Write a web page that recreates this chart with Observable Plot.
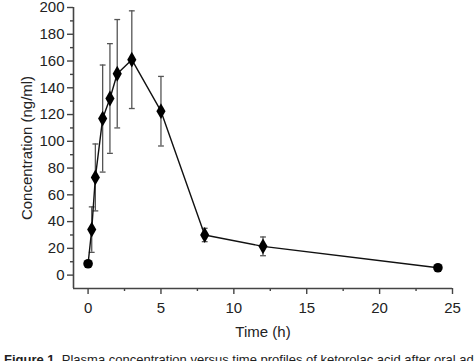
<!DOCTYPE html>
<html>
<head>
<meta charset="utf-8">
<script src="https://cdn.jsdelivr.net/npm/d3@7"></script>
<script src="https://cdn.jsdelivr.net/npm/@observablehq/plot@0.6"></script>
<style>
  html, body { margin: 0; padding: 0; background: #fff; width: 474px; height: 361px; overflow: hidden; }
  #chart svg { display: block; overflow: visible; }
  #caption { position: absolute; left: 4px; top: 352px; font: 13px "Liberation Sans", Arial, sans-serif; color: #222; white-space: nowrap; }
</style>
</head>
<body>
<div id="chart"></div>
<div id="caption"><b>Figure 1</b>&nbsp;&nbsp;Plasma concentration versus time profiles of ketorolac acid after oral administration</div>
<script>
const times = [0, 0.25, 0.5, 1, 1.5, 2, 3, 5, 8, 12, 24];
const conc = [8.5, 34, 73, 117, 132, 150.5, 161, 122.5, 30, 21.5, 5.5];
const sd = [0, 17, 25, 40, 41, 40.5, 36.5, 26, 5, 7, 0];
const symbols = ["circle", "diamond", "diamond", "diamond", "diamond", "diamond", "diamond", "diamond", "diamond", "diamond", "circle"];
const xTicks = [0, 5, 10, 15, 20, 25];
const xMinor = [2.5, 7.5, 12.5, 17.5, 22.5];
const yTicks = [0, 20, 40, 60, 80, 100, 120, 140, 160, 180, 200];
const yMinor = [10, 30, 50, 70, 90, 110, 130, 150, 170, 190];

const data = times.map((t, i) => ({t, c: conc[i], sd: sd[i], sym: symbols[i]}));
const bars = data.filter(d => d.sd > 0);
const caps = bars.flatMap(d => [{t: d.t, y: d.c + d.sd}, {t: d.t, y: d.c - d.sd}]);
const capHalf = 0.2;

const chart = Plot.plot({
  width: 474,
  height: 340,
  marginLeft: 73,
  marginRight: 22,
  marginTop: 7,
  marginBottom: 52,
  style: {fontFamily: "'Liberation Sans', Arial, sans-serif", fontSize: "15px", color: "#222", background: "#fff", overflow: "visible"},
  x: {domain: [-1, 25]},
  y: {domain: [-10, 200]},
  marks: [
    Plot.axisX({ticks: xTicks, tickSize: 6, tickPadding: 8, stroke: "#444", strokeWidth: 1.4, label: "Time (h)", labelAnchor: "center", labelArrow: "none", labelOffset: 48}),
    Plot.axisX({ticks: xMinor, tickSize: 3, tickFormat: () => "", stroke: "#444", strokeWidth: 1.4, label: null}),
    Plot.axisY({ticks: yTicks, tickSize: 6, tickPadding: 3, stroke: "#444", strokeWidth: 1.4, label: "Concentration (ng/ml)", labelAnchor: "center", labelArrow: "none", labelOffset: 52}),
    Plot.axisY({ticks: yMinor, tickSize: 3, tickFormat: () => "", stroke: "#444", strokeWidth: 1.4, label: null}),
    Plot.ruleY([-10], {stroke: "#444", strokeWidth: 1.6}),
    Plot.ruleX([-1], {stroke: "#444", strokeWidth: 1.6}),
    Plot.ruleX(bars, {x: "t", y1: d => d.c - d.sd, y2: d => d.c + d.sd, stroke: "#555", strokeWidth: 1.3}),
    Plot.link(caps, {x1: d => d.t - capHalf, x2: d => d.t + capHalf, y1: "y", y2: "y", stroke: "#555", strokeWidth: 1.3}),
    Plot.line(data, {x: "t", y: "c", stroke: "#111", strokeWidth: 1.4}),
    Plot.dot(data, {x: "t", y: "c", symbol: "sym", r: 4.8, fill: "#000", stroke: "none"})
  ]
});
document.getElementById("chart").appendChild(chart);
</script>
</body>
</html>
